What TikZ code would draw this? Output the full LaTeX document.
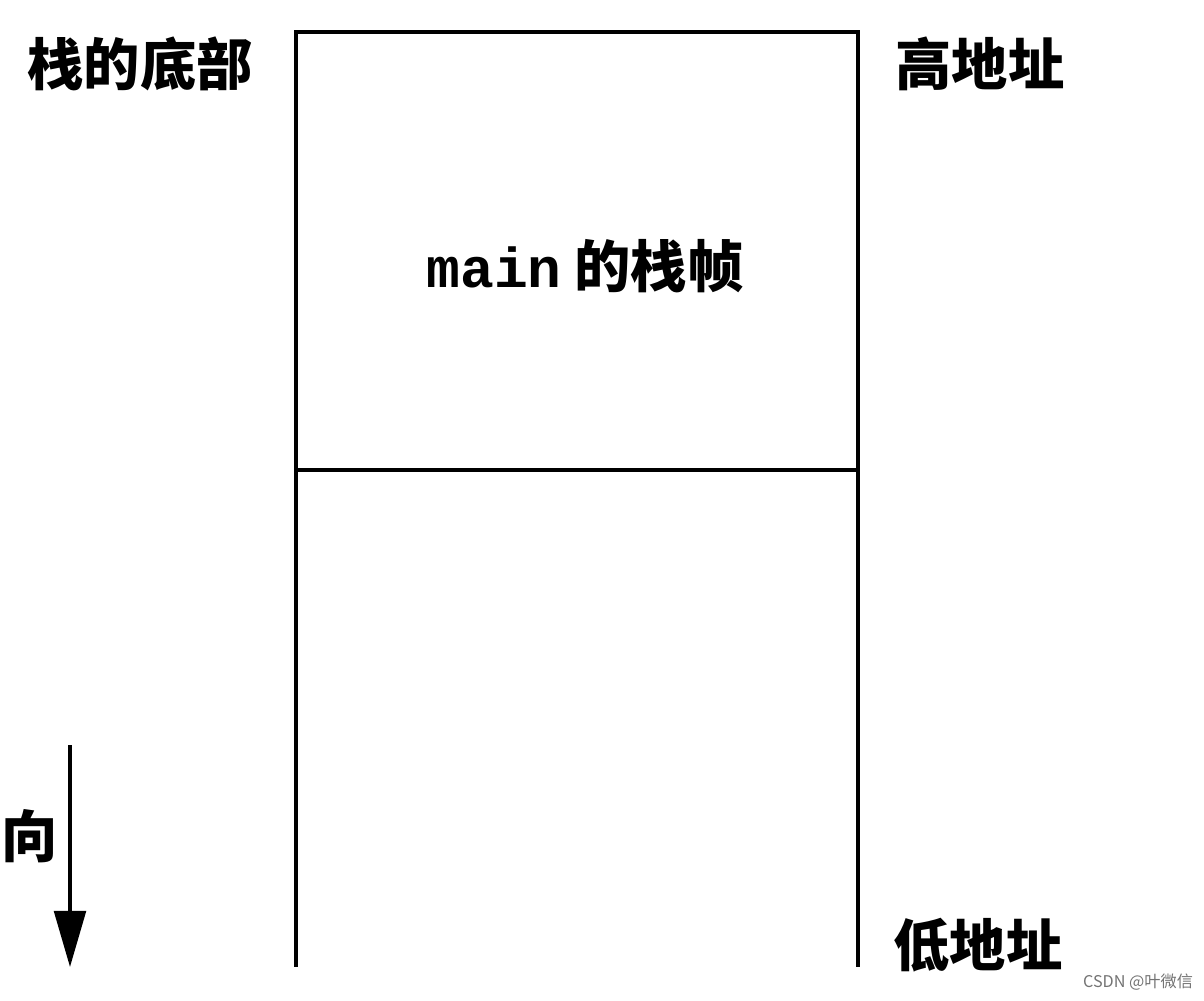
\documentclass[tikz,border=0pt]{standalone}
\usepackage{fontspec}
\setmainfont{Liberation Serif}
\newfontfamily\cjk{Noto Sans CJK SC}
\newfontfamily\monobf{Liberation Mono}
\usetikzlibrary{arrows.meta}

\tikzstyle{frameline} = [line width=1.4pt, line cap=rect]
\tikzstyle{tag} = [inner sep=0pt, font=\cjk\bfseries\fontsize{16}{18}\selectfont]
\tikzstyle{growarrow} = [line width=1.1pt, -{Triangle[length=16pt, width=9pt]}]
\tikzstyle{watermark} = [inner sep=0pt, text=black!55, font=\cjk\fontsize{4.6}{5}\selectfont]

\begin{document}
\begin{tikzpicture}[x=0.01cm, y=-0.01cm]
	\useasboundingbox (0,0) rectangle (1204,1000);
	
	% the stack
	\coordinate (tl) at (296,32);
	\coordinate (tr) at (858,32);
	\coordinate (ml) at (296,470);
	\coordinate (mr) at (858,470);
	\coordinate (bl) at (296,965);
	\coordinate (br) at (858,965);
	\draw[frameline] (bl) -- (tl) -- (tr) -- (br);
	\draw[frameline] (ml) -- (mr);
	
	\node [tag] (mainframe) at (585,266) {{\monobf\bfseries main} 的栈帧};
	\node [tag] (bottom) at (140,64) {栈的底部};
	\node [tag] (high) at (980,64) {高地址};
	\node [tag] (low) at (978,945) {低地址};
	
	% growth direction
	\coordinate (grow start) at (70,745);
	\coordinate (grow end) at (70,967);
	\draw[growarrow] (grow start) -- (grow end);
	\node [tag, anchor=west] (grow) at (1,836) {向};
	
	\node [watermark] (csdn) at (1138,982) {CSDN @叶微信};
\end{tikzpicture}
\end{document}
